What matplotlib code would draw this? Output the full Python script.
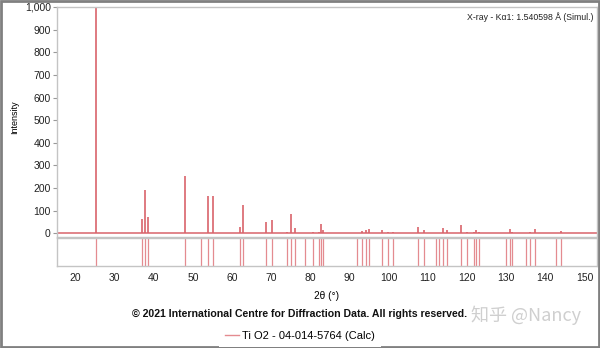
#!/usr/bin/env python3
"""
Simulated XRD pattern of TiO2 (anatase), ICDD 04-014-5764 style plot.
"""

import matplotlib
matplotlib.use('Agg')
import matplotlib.pyplot as plt
from matplotlib.lines import Line2D
from matplotlib.patches import Rectangle
from matplotlib.ticker import FuncFormatter

plt.rcParams['font.family'] = ['Liberation Sans', 'DejaVu Sans']

# Peak positions (2-theta, deg) and relative intensities
two_theta = [25.28, 36.95, 37.80, 38.58, 48.04, 51.95, 53.89, 55.06, 62.12, 62.69,
             68.76, 70.31, 74.03, 75.03, 76.02, 78.70, 80.70, 82.14, 82.66, 83.15,
             92.00, 93.20, 94.20, 95.10, 98.30, 99.80, 101.20, 107.40, 109.00, 112.20,
             112.80, 113.90, 114.90, 118.40, 120.10, 121.70, 122.30, 123.00, 130.00, 131.00,
             131.60, 135.10, 136.00, 137.40, 142.80, 143.90]
intensity = [1000, 64, 190, 72, 255, 1, 165, 163, 30, 126,
             52, 57, 7, 86, 24, 3, 5, 8, 41, 17,
             2, 9, 17, 20, 14, 8, 5, 29, 14, 2,
             3, 22, 15, 38, 7, 4, 16, 8, 2, 21,
             5, 3, 6, 21, 2, 9]

y_ticks = [0, 100, 200, 300, 400, 500, 600, 700, 800, 900, 1000]
x_ticks = [20, 30, 40, 50, 60, 70, 80, 90, 100, 110, 120, 130, 140, 150]

peak_color = '#d9636b'
stick_color = '#e48b90'
spine_color = '#c4c4c4'

W, H = 600, 348
fig = plt.figure(figsize=(W / 100, H / 100), dpi=100)

# Main pattern
ax = fig.add_axes([57 / W, 1 - 237 / H, 540 / W, 230 / H])
ax.vlines(two_theta, 0, intensity, color=peak_color, lw=1.2)
ax.axhline(0, color=peak_color, lw=1.1)
ax.set_xlim(15.3, 153.2)
ax.set_ylim(-16, 1000)
ax.set_yticks(y_ticks)
ax.yaxis.set_major_formatter(FuncFormatter(lambda v, p: f'{int(v):,}'))
ax.set_xticks([])
ax.tick_params(axis='y', length=3, width=0.8, color='#999999', pad=1.5,
               labelsize=7.5, labelcolor='#222222')
for s in ax.spines.values():
    s.set_color(spine_color)
    s.set_linewidth(1.0)
ax.set_ylabel('Intensity', fontsize=6.5)
ax.yaxis.set_label_coords(-0.071, 0.52)

ax.text(0.993, 0.955, 'X-ray - K\u03b11: 1.540598 \u00c5 (Simul.)', transform=ax.transAxes,
        ha='right', va='center', fontsize=6.3, color='#222222')

# Stick panel
ax2 = fig.add_axes([57 / W, 1 - 266 / H, 540 / W, 28 / H])
ax2.vlines(two_theta, 0, 1, color=stick_color, lw=0.9)
ax2.set_xlim(15.3, 153.2)
ax2.set_ylim(0, 1)
ax2.set_yticks([])
ax2.set_xticks(x_ticks)
ax2.tick_params(axis='x', length=0, pad=5, labelsize=7.5, labelcolor='#222222')
for s in ax2.spines.values():
    s.set_color(spine_color)
    s.set_linewidth(1.0)
ax2.set_xlabel('2\u03b8 (\u00b0)', fontsize=7.3, labelpad=6)

# Footer texts
fig.text(300 / W, 1 - 314 / H,
         '\u00a9 2021 International Centre for Diffraction Data. All rights reserved.',
         ha='center', va='center', fontsize=7.6, fontweight='bold', color='#111111')
fig.text(471 / W, 1 - 315 / H, '知乎 @Nancy', ha='left', va='center', fontsize=13,
         color='#cfcfcf', family=['Noto Sans CJK SC', 'DejaVu Sans'])

# Figure border
fig.patches.append(Rectangle((0.002, 0.003), 0.996, 0.994, transform=fig.transFigure,
                             fill=False, edgecolor='#808080', lw=2.0))

# Legend box
leg = fig.legend(handles=[Line2D([], [], color=stick_color, lw=1.0)],
                 labels=['Ti O2 - 04-014-5764 (Calc)'],
                 loc='center', bbox_to_anchor=(300 / W, 1 - 336 / H),
                 frameon=True, facecolor='white', edgecolor='none', fancybox=False,
                 fontsize=8, handlelength=1.3, handletextpad=0.3, borderpad=0.5)
leg.get_frame().set_alpha(1.0)

fig.savefig('out.png', dpi=100)
